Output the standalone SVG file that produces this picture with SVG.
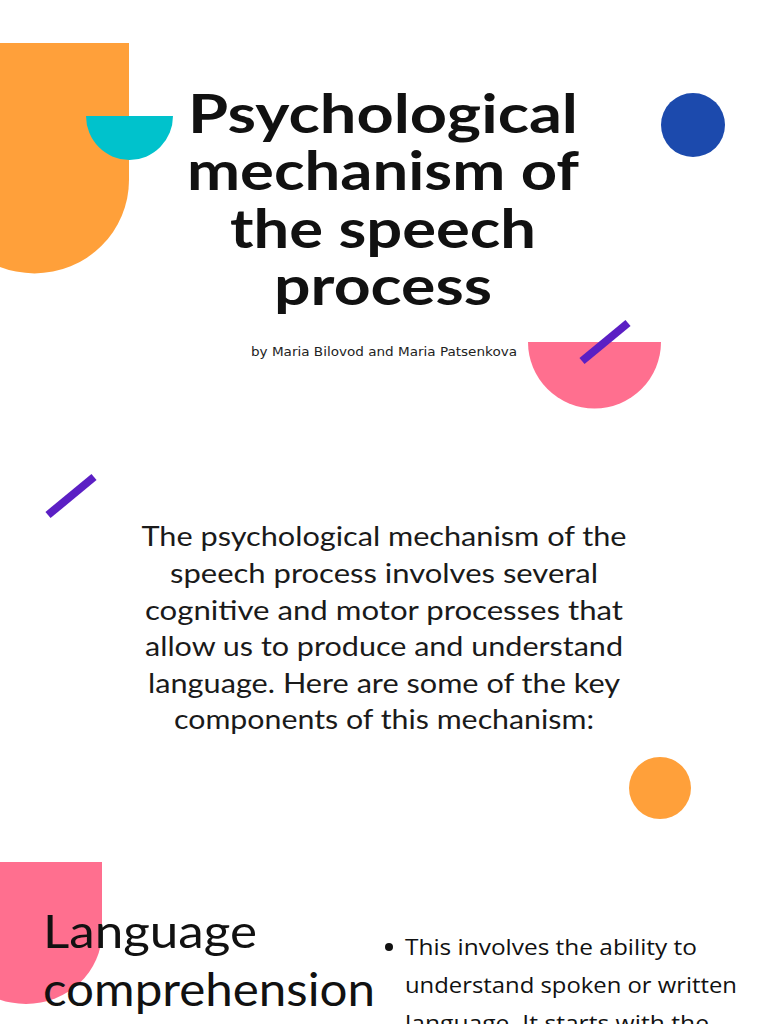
<svg xmlns="http://www.w3.org/2000/svg" width="768" height="1024" viewBox="0 0 768 1024">
<style>
.t{font-family:Lato,"Open Sans",sans-serif;font-weight:bold;font-size:54px;fill:#111;text-anchor:middle}
.b{font-family:Lato,"Open Sans",sans-serif;font-size:27px;fill:#1a1a1a;text-anchor:middle}
.p{stroke:#5b1fc4;stroke-width:8}
</style>
<rect width="768" height="1024" fill="#fff"/>
<path d="M-60 43H129V180A89 88 0 0 1 -60 180Z" fill="#ffa03a"/>
<path d="M86 116H173A43.5 44 0 0 1 86 116Z" fill="#00c2cc"/>
<circle cx="693" cy="125" r="32" fill="#1c4aad"/>
<path d="M528 342H661A66.5 66.5 0 0 1 528 342Z" fill="#ff6f8f"/>
<line class="p" x1="582" y1="361" x2="628" y2="323"/>
<line class="p" x1="48" y1="515" x2="94" y2="477"/>
<circle cx="660" cy="788" r="31" fill="#ffa03a"/>
<path d="M-50 862H102V932A76 72 0 0 1 -50 932Z" fill="#ff6f8f"/>
<g lengthAdjust="spacingAndGlyphs">
<text class="t" x="383" y="133" textLength="390" lengthAdjust="spacingAndGlyphs">Psychological</text>
<text class="t" x="383" y="190" textLength="392" lengthAdjust="spacingAndGlyphs">mechanism of</text>
<text class="t" x="383" y="248" textLength="306" lengthAdjust="spacingAndGlyphs">the speech</text>
<text class="t" x="383" y="305" textLength="218" lengthAdjust="spacingAndGlyphs">process</text>
</g>
<text x="384" y="356" font-family="'DejaVu Sans',sans-serif" font-size="13" fill="#222" text-anchor="middle" textLength="266" lengthAdjust="spacingAndGlyphs">by Maria Bilovod and Maria Patsenkova</text>
<text class="b" x="384" y="546" textLength="485" lengthAdjust="spacingAndGlyphs">The psychological mechanism of the</text>
<text class="b" x="384" y="583" textLength="428" lengthAdjust="spacingAndGlyphs">speech process involves several</text>
<text class="b" x="384" y="620" textLength="478" lengthAdjust="spacingAndGlyphs">cognitive and motor processes that</text>
<text class="b" x="384" y="656" textLength="478" lengthAdjust="spacingAndGlyphs">allow us to produce and understand</text>
<text class="b" x="384" y="693" textLength="472" lengthAdjust="spacingAndGlyphs">language. Here are some of the key</text>
<text class="b" x="384" y="729" textLength="420" lengthAdjust="spacingAndGlyphs">components of this mechanism:</text>
<text x="43" y="948" font-family="Lato,sans-serif" font-size="46" fill="#111" textLength="214" lengthAdjust="spacingAndGlyphs">Language</text>
<text x="43" y="1006" font-family="Lato,sans-serif" font-size="46" fill="#111" textLength="332" lengthAdjust="spacingAndGlyphs">comprehension</text>
<circle cx="389" cy="947" r="4" fill="#111"/>
<g font-family="'Open Sans',sans-serif" font-size="22" fill="#111">
<text x="405" y="955" textLength="292" lengthAdjust="spacingAndGlyphs">This involves the ability to</text>
<text x="405" y="993" textLength="332" lengthAdjust="spacingAndGlyphs">understand spoken or written</text>
<text x="405" y="1031" textLength="304" lengthAdjust="spacingAndGlyphs">language. It starts with the</text>
</g>
</svg>
